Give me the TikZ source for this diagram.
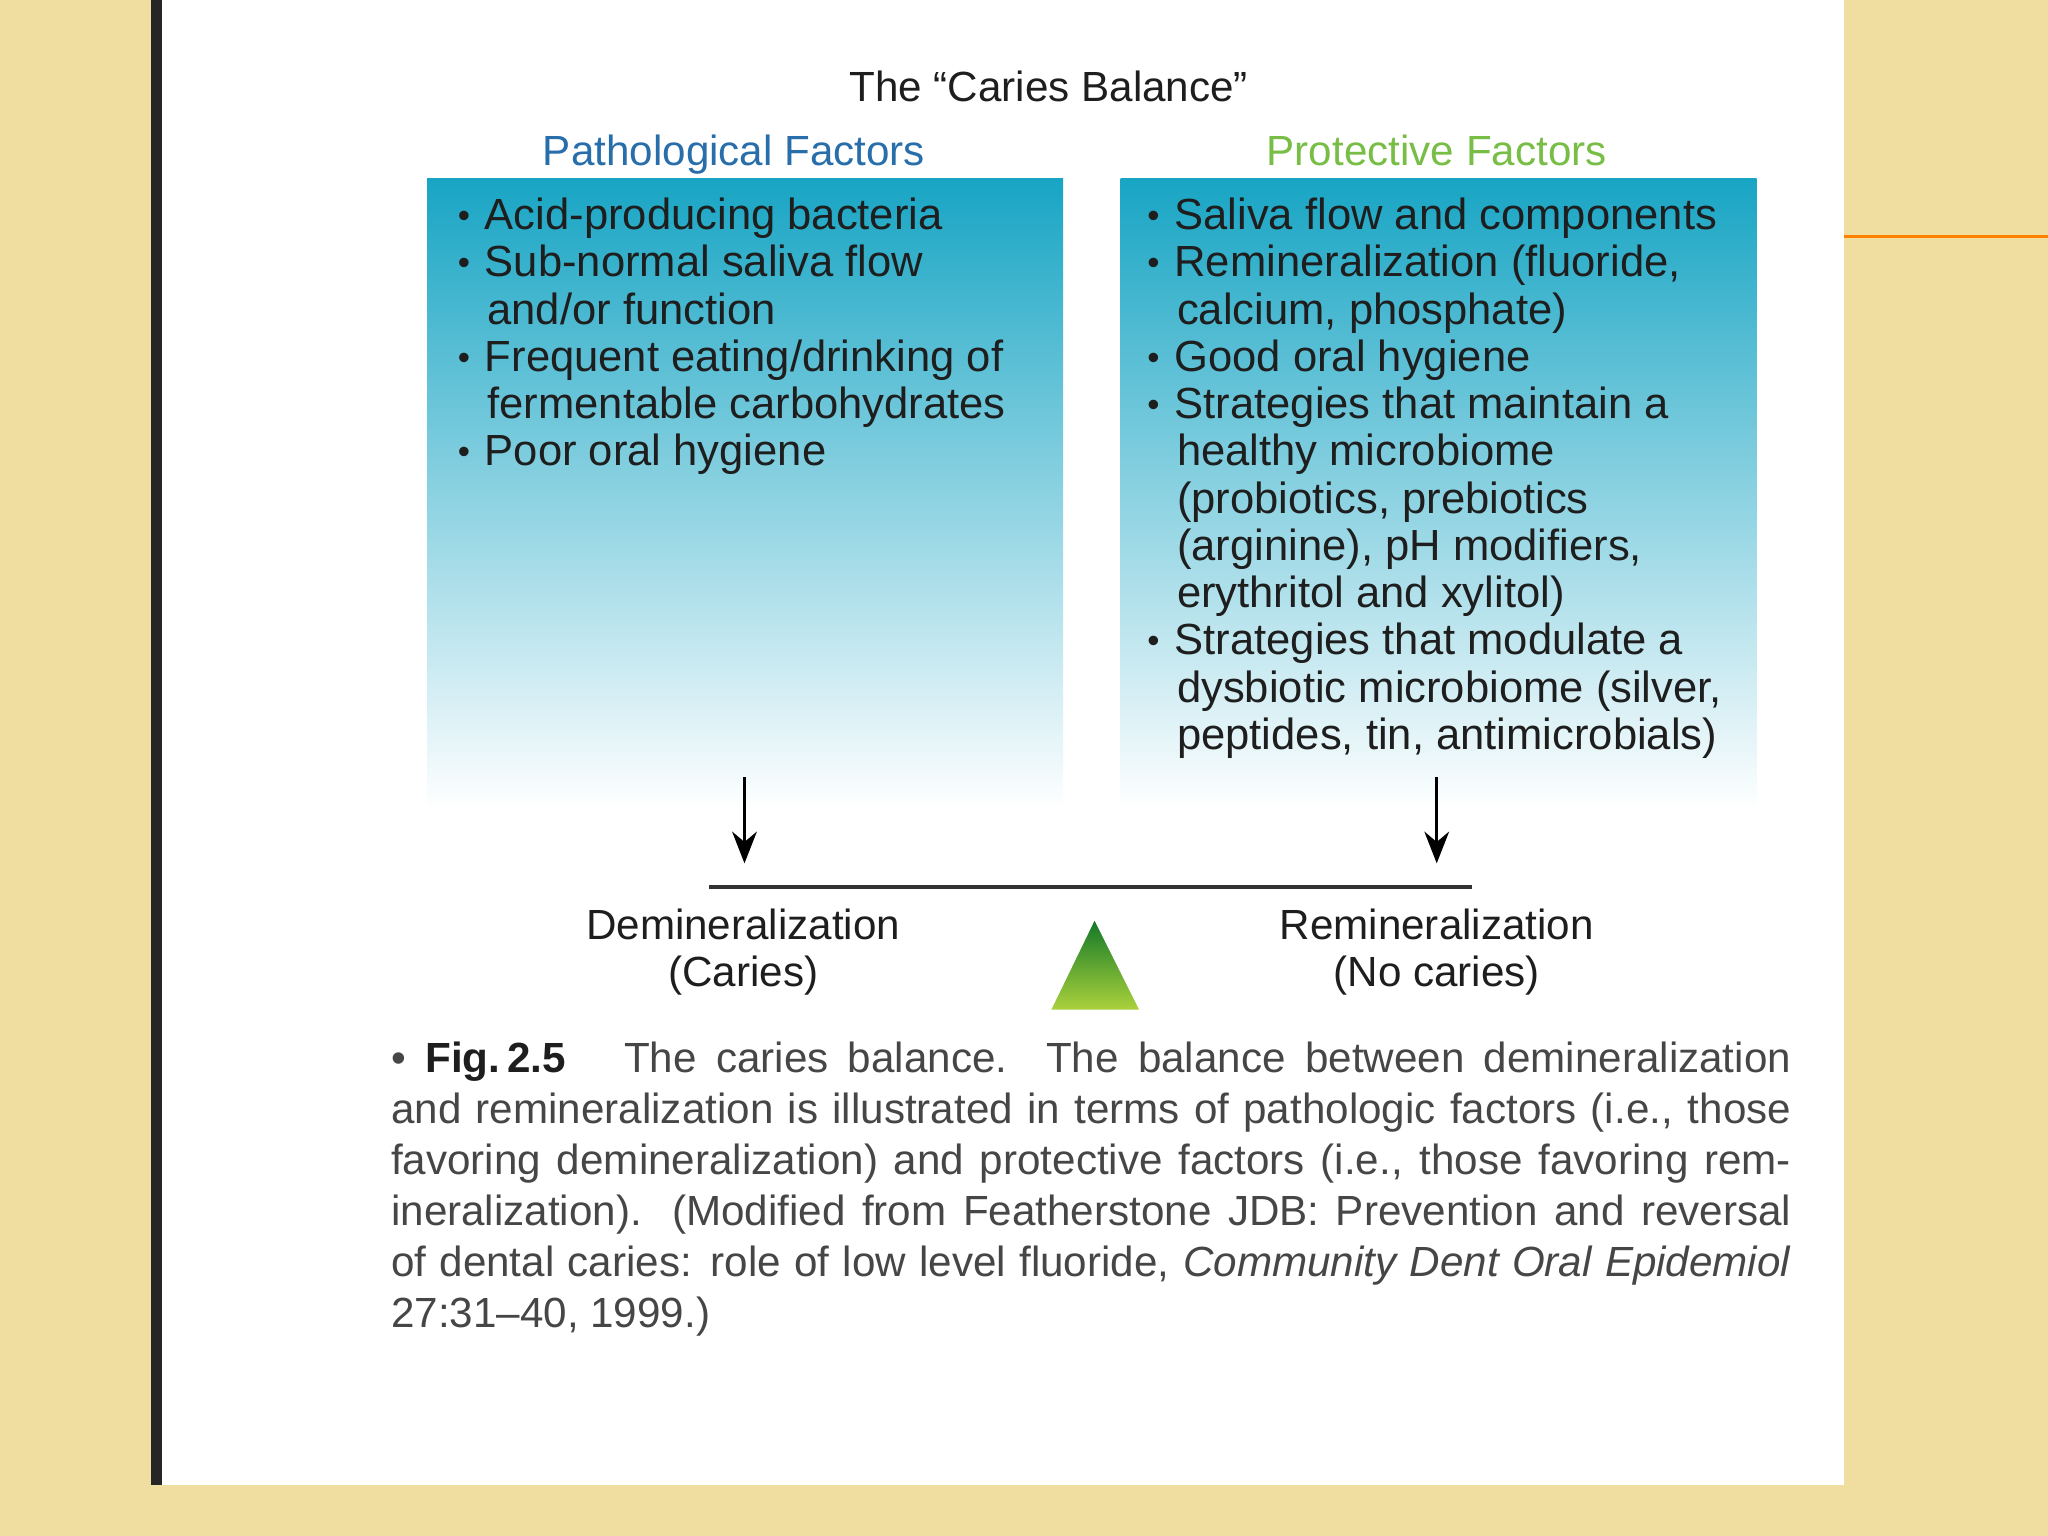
\documentclass[tikz,border=0pt]{standalone}
\usepackage{fontspec}
\setmainfont{Liberation Sans}
\usetikzlibrary{arrows.meta}
\definecolor{beige}{RGB}{240,222,160}
\definecolor{teal1}{RGB}{24,165,196}
\definecolor{pathblue}{RGB}{40,110,170}
\definecolor{protgreen}{RGB}{120,190,70}
\definecolor{txt}{RGB}{30,30,30}
\definecolor{cap}{RGB}{70,70,70}
\definecolor{trtop}{RGB}{20,120,40}
\definecolor{trbot}{RGB}{170,210,60}
\newcommand{\bl}{\makebox[0.62em][l]{\raisebox{0.1ex}{\scalebox{0.8}{•}}}}
\newcommand{\ind}{\hspace*{0.68em}}
\begin{document}
\begin{tikzpicture}[x=0.013061cm,y=-0.013061cm,
  boxtext/.style={anchor=north west,align=left,font=\fontsize{12.4}{13.45}\selectfont,text=txt,inner sep=0pt},
  head/.style={font=\fontsize{12}{14}\selectfont,inner sep=0pt,anchor=base},
  lbl/.style={font=\fontsize{12}{13.45}\selectfont,align=center,text=txt,inner sep=0pt},
  gbox/.style={top color=teal1,bottom color=white,draw=none},
  arr/.style={-{Stealth[length=9pt,width=7pt]},line width=1pt}]
\useasboundingbox (0,0) rectangle (1568,1176);
\fill[beige] (0,0) rectangle (1568,1176);
\fill[white] (118,0) rectangle (1412,1137);
\draw[line width=3pt,black!85] (120,0) -- (120,1137);
\draw[orange,line width=1pt] (1412,181) -- (1568,181);
\node[head,text=txt] (title) at (803,78) {The “Caries Balance”};
\node[head,text=pathblue] (ph) at (562,127) {Pathological Factors};
\node[head,text=protgreen] (pr) at (1100,127) {Protective Factors};
\shade[gbox] (327,137) rectangle (814,620);
\shade[gbox] (858,137) rectangle (1345,620);
\node[boxtext] (lt) at (350,151) {\bl Acid-producing bacteria\\ \bl Sub-normal saliva flow\\ \ind and/or function\\ \bl Frequent eating/drinking of\\ \ind fermentable carbohydrates\\ \bl Poor oral hygiene};
\node[boxtext] (rt) at (878,151) {\bl Saliva flow and components\\ \bl Remineralization (fluoride,\\ \ind calcium, phosphate)\\ \bl Good oral hygiene\\ \bl Strategies that maintain a\\ \ind healthy microbiome\\ \ind (probiotics, prebiotics\\ \ind (arginine), pH modifiers,\\ \ind erythritol and xylitol)\\ \bl Strategies that modulate a\\ \ind dysbiotic microbiome (silver,\\ \ind peptides, tin, antimicrobials)};
\coordinate (a1) at (570,595); \coordinate (a2) at (570,661);
\coordinate (b1) at (1100,595); \coordinate (b2) at (1100,661);
\draw[arr] (a1) -- (a2);
\draw[arr] (b1) -- (b2);
\coordinate (h1) at (543,679); \coordinate (h2) at (1127,679);
\draw[line width=1.3pt,black!80] (h1) -- (h2);
\node[lbl] (dem) at (569,729) {Demineralization\\(Caries)};
\node[lbl] (rem) at (1100,729) {Remineralization\\(No caries)};
\shade[top color=trtop,bottom color=trbot] (838,705) -- (872,773) -- (805,773) -- cycle;
\node[anchor=north west,inner sep=0pt,text=cap,font=\fontsize{12}{14.5}\selectfont,align=left] (caption) at (299,797) {%
\makebox[14.0cm][s]{\textcolor{cap}{•}\ \textbf{\textcolor{txt}{Fig.\,2.5}}\ \ \ The caries balance. The balance between demineralization}\\
\makebox[14.0cm][s]{and remineralization is illustrated in terms of pathologic factors (i.e., those}\\
\makebox[14.0cm][s]{favoring demineralization) and protective factors (i.e., those favoring rem-}\\
\makebox[14.0cm][s]{ineralization). (Modified from Featherstone JDB: Prevention and reversal}\\
\makebox[14.0cm][s]{of dental caries: role of low level fluoride, \textit{Community Dent Oral Epidemiol}}\\
27:31–40, 1999.)};
\end{tikzpicture}
\end{document}
